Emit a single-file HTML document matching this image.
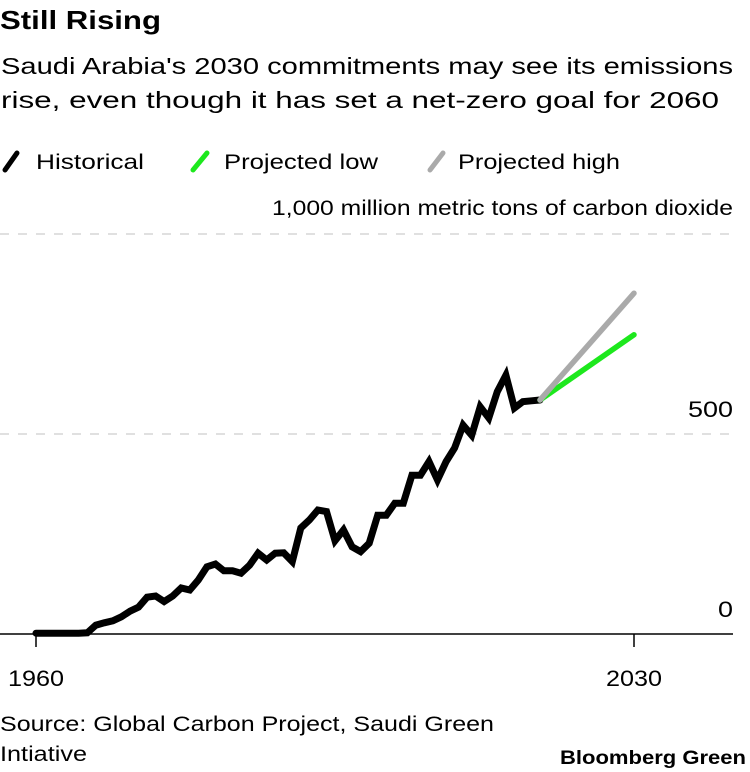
<!DOCTYPE html>
<html><head><meta charset="utf-8"><style>
html,body{margin:0;padding:0;background:#fff;}
svg{display:block;font-family:"Liberation Sans",Arial,sans-serif;}
</style></head><body>
<svg id="chart" width="750" height="772" viewBox="0 0 750 772">
<text x="0" y="29" font-size="26" font-weight="bold" fill="#000" textLength="161" lengthAdjust="spacingAndGlyphs">Still Rising</text>
<text x="1" y="74" font-size="23" fill="#000" textLength="732" lengthAdjust="spacingAndGlyphs">Saudi Arabia's 2030 commitments may see its emissions</text>
<text x="1" y="108" font-size="23" fill="#000" textLength="718" lengthAdjust="spacingAndGlyphs">rise, even though it has set a net-zero goal for 2060</text>
<g>
 <g>
  <line x1="5" y1="170" x2="17" y2="153" stroke="#000" stroke-width="5" stroke-linecap="round"/>
  <text x="36" y="169" font-size="21" textLength="108" lengthAdjust="spacingAndGlyphs">Historical</text>
 </g>
 <g>
  <line x1="193" y1="170" x2="207" y2="153" stroke="#1de81d" stroke-width="5" stroke-linecap="round"/>
  <text x="224" y="169" font-size="21" textLength="154" lengthAdjust="spacingAndGlyphs">Projected low</text>
 </g>
 <g>
  <line x1="430" y1="170" x2="443" y2="153" stroke="#aaaaaa" stroke-width="5" stroke-linecap="round"/>
  <text x="458" y="169" font-size="21" textLength="162" lengthAdjust="spacingAndGlyphs">Projected high</text>
 </g>
</g>
<text x="733" y="215" font-size="21" text-anchor="end" textLength="461" lengthAdjust="spacingAndGlyphs">1,000 million metric tons of carbon dioxide</text>
<g id="grid"></g>
<g id="marks"></g>
<text x="0" y="731" font-size="21" textLength="494" lengthAdjust="spacingAndGlyphs">Source: Global Carbon Project, Saudi Green</text>
<text x="0" y="761" font-size="21" textLength="87" lengthAdjust="spacingAndGlyphs">Intiative</text>
<text x="746" y="764" font-size="19" font-weight="bold" text-anchor="end" textLength="186" lengthAdjust="spacingAndGlyphs">Bloomberg Green</text>
</svg>
<script>
const years = [1960,1961,1962,1963,1964,1965,1966,1967,1968,1969,1970,1971,1972,1973,1974,1975,1976,1977,1978,1979,1980,1981,1982,1983,1984,1985,1986,1987,1988,1989,1990,1991,1992,1993,1994,1995,1996,1997,1998,1999,2000,2001,2002,2003,2004,2005,2006,2007,2008,2009,2010,2011,2012,2013,2014,2015,2016,2017,2018,2019];
const historical = [2,2,2,2,2,2,3,22,28,33,43,57,67,92,95,81,95,115,110,135,168,175,158,158,152,172,202,185,202,203,181,265,285,310,306,233,260,218,206,227,297,297,327,327,397,397,431,385,431,465,522,497,568,540,606,647,565,581,583,585];
const projYears = [2019,2030];
const projLow = [585,748];
const projHigh = [585,852];
const yTicks = [0,500,1000];
const yTickLabels = ["0","500",""];
const xTicks = [1960,2030];
const xTickLabels = ["1960","2030"];

const NS="http://www.w3.org/2000/svg";
const x = yr => 36 + (yr-1960)*(598/70);
const y = v => 634 - v*0.4;
const grid=document.getElementById('grid'), marks=document.getElementById('marks');
function mk(tag,attrs,parent){const e=document.createElementNS(NS,tag);for(const k in attrs)e.setAttribute(k,attrs[k]);parent.appendChild(e);return e;}

yTicks.forEach((t,i)=>{
  if(t>0){
    const g=mk('line',{x1:0,x2:733,y1:y(t),y2:y(t),stroke:'#d6d6d6','stroke-width':1.5,'stroke-dasharray':'9 9'},grid);
    
    
  }
  if(yTickLabels[i]){
    const tx=mk('text',{x:733,y:y(t)-17,'font-size':22,'text-anchor':'end',textLength:yTickLabels[i].length*15,lengthAdjust:'spacingAndGlyphs'},grid);
    tx.textContent=yTickLabels[i];
    
    
  }
});
const base=mk('line',{x1:0,x2:733,y1:y(0),y2:y(0),stroke:'#000','stroke-width':1.5},grid);


xTicks.forEach((t,i)=>{
  const tk=mk('line',{x1:x(t),x2:x(t),y1:y(0),y2:y(0)+13,stroke:'#000','stroke-width':1.5},grid);
  
  
  const tx=mk('text',{x:x(t),y:686,'font-size':22,'text-anchor':'middle',textLength:56,lengthAdjust:'spacingAndGlyphs'},grid);
  tx.textContent=xTickLabels[i];
  
  
});
function line(xs,vs,color,w,name){
  const d=xs.map((yr,i)=>(i?'L':'M')+x(yr).toFixed(1)+','+y(vs[i]).toFixed(1)).join(' ');
  const p=mk('path',{d:d,fill:'none',stroke:color,'stroke-width':w,'stroke-linejoin':'miter','stroke-linecap':'round'},marks);
  
  
}
line(years,historical,'#000',7,'historical-line');
line(projYears,projLow,'#1de81d',5.5,'projected-low-line');
line(projYears,projHigh,'#aaaaaa',5.5,'projected-high-line');
</script>
</body></html>
